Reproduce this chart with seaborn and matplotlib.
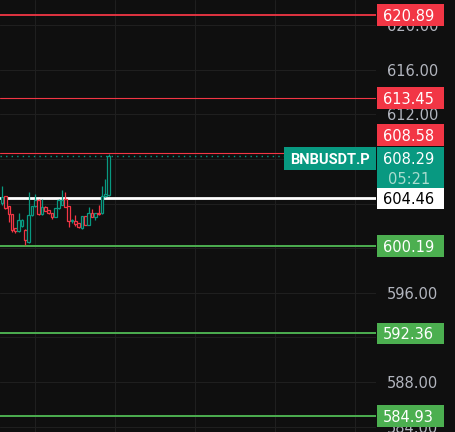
import numpy as np
import pandas as pd
import seaborn as sns
import matplotlib
matplotlib.use('Agg')
import matplotlib.pyplot as plt
import matplotlib.transforms as mtransforms
from matplotlib.patches import Rectangle

# candle data
opens = [604.02, 604.68, 603.78, 603.07, 601.78, 601.57, 602.00, 601.63, 600.58, 602.95, 603.78,
         604.32, 603.07, 603.72, 603.43, 603.13, 602.83, 603.58, 603.90, 604.38, 603.78, 602.41,
         602.41, 602.29, 601.81, 602.89, 602.11, 603.13, 602.83, 603.13, 603.13, 604.68, 604.77]
highs = [605.58, 604.70, 603.80, 603.10, 601.80, 603.13, 602.60, 601.70, 605.00, 603.80, 604.86,
         604.40, 604.38, 603.75, 603.45, 603.15, 603.60, 604.40, 605.22, 605.04, 603.80, 602.60,
         602.95, 602.30, 602.90, 602.90, 603.72, 603.49, 603.15, 603.87, 605.58, 606.18, 608.45]
lows = [603.90, 603.50, 602.38, 601.50, 601.39, 601.50, 601.90, 600.26, 600.50, 602.90, 603.70,
        603.00, 603.00, 603.30, 603.10, 602.65, 602.80, 603.50, 603.85, 603.70, 601.87, 602.30,
        601.99, 601.80, 601.75, 602.05, 602.05, 602.80, 602.53, 603.00, 603.10, 604.60, 604.70]
closes = [604.62, 603.58, 603.07, 601.63, 601.57, 602.53, 602.53, 600.74, 602.95, 603.78, 604.32,
          603.07, 603.72, 603.37, 603.19, 602.83, 603.58, 604.32, 604.30, 603.72, 602.41, 602.53,
          602.17, 601.87, 602.89, 602.11, 603.13, 602.83, 603.13, 603.05, 604.68, 604.90, 608.29]

level_prices = [620.89, 613.45, 608.58, 604.46, 600.19, 592.36, 584.93]
level_kinds = ['res', 'res', 'res', 'pivot', 'sup', 'sup', 'sup']
last_price = 608.29
countdown = "05:21"
symbol = "BNBUSDT.P"
price_ticks = [584, 588, 592, 596, 600, 604, 608, 612, 616, 620]
hidden_ticks = [592, 600, 604, 608]   # fully covered by level labels
time_grid = [10, 34, 58, 82, 106]

bg = '#0f0f0f'
up_col = '#089981'
dn_col = '#f23645'
kind_col = {'res': '#f23645', 'pivot': '#ffffff', 'sup': '#4caf50'}
kind_lw = {'res': 0.8, 'pivot': 2.0, 'sup': 1.4}
kind_txt = {'res': 'white', 'pivot': 'black', 'sup': 'white'}

df = pd.DataFrame({'open': opens, 'high': highs, 'low': lows, 'close': closes})
df['idx'] = np.arange(len(df))
df['up'] = df['close'] >= df['open']
df['color'] = np.where(df['up'], up_col, dn_col)

sns.set_theme(style='dark', rc={'axes.facecolor': bg, 'figure.facecolor': bg,
                               'grid.color': '#1f1f1f', 'axes.edgecolor': bg})
plt.rcParams['font.family'] = ['DejaVu Sans']

fig = plt.figure(figsize=(4.56, 4.32), dpi=100)
ax = fig.add_axes([0, 0, 376 / 456, 1])
ax.set_xlim(-0.63, 112.3)
ax.set_ylim(583.52, 622.26)

ax.set_xticks(time_grid)
ax.set_xticklabels([])
ax.set_yticks(price_ticks)
ax.set_yticklabels(["" if v in hidden_ticks else "%.2f" % v for v in price_ticks])
ax.yaxis.tick_right()
ax.tick_params(axis='y', length=0, pad=8, labelsize=10.5, labelcolor='#b2b5be')
ax.tick_params(axis='x', length=0)
ax.grid(True, color='#1f1f1f', linewidth=0.8)
for s in ax.spines.values():
    s.set_visible(False)

# candles
ax.vlines(df['idx'], df['low'], df['high'], colors=df['color'], linewidth=0.9, zorder=3)
body_lo = df[['open', 'close']].min(axis=1)
body_h = (df['close'] - df['open']).abs().clip(lower=0.08)
ax.bar(df['idx'], body_h, bottom=body_lo, width=0.75, color=bg, edgecolor=df['color'],
       linewidth=0.9, zorder=4)

# levels
for p, k in zip(level_prices, level_kinds):
    lw = kind_lw[k]
    if p == level_prices[0]:
        lw = 1.3
    ax.axhline(p, color=kind_col[k], linewidth=lw, zorder=2)
ax.axhline(last_price, color=up_col, linewidth=1.0, linestyle=(0, (1, 3)), zorder=2)

trans = mtransforms.blended_transform_factory(ax.transAxes, ax.transData)
bx0, bw = 1.003, 0.178
h = 1.95
cur_top = last_price + 0.8
cur_h = 3.7

for p, k in zip(level_prices, level_kinds):
    c = p
    if abs(p - last_price) < 1.5:
        c = cur_top + 0.1 + h / 2
    ax.add_patch(Rectangle((bx0, c - h / 2), bw, h, transform=trans, clip_on=False,
                           facecolor=kind_col[k], edgecolor='none', zorder=6))
    ax.text(bx0 + bw / 2 - 0.005, c, "%.2f" % p, transform=trans, clip_on=False, ha='center',
            va='center_baseline', fontsize=10.5, color=kind_txt[k], zorder=7)

# current price label
ax.add_patch(Rectangle((bx0, cur_top - cur_h), bw, cur_h, transform=trans, clip_on=False,
                       facecolor=up_col, edgecolor='none', zorder=6))
ax.text(bx0 + bw / 2 - 0.005, cur_top - 1.0, "%.2f" % last_price, transform=trans, clip_on=False,
        ha='center', va='center_baseline', fontsize=10.5, color='white', zorder=7)
ax.text(bx0 + bw / 2 - 0.005, cur_top - 2.8, countdown, transform=trans, clip_on=False,
        ha='center', va='center_baseline', fontsize=10.5, color='#a8dccf', zorder=7)

# symbol label
ax.add_patch(Rectangle((0.755, cur_top - 2.06), 0.245, 2.06, transform=trans, clip_on=False,
                       facecolor=up_col, edgecolor='none', zorder=6))
ax.text(0.8775, cur_top - 1.03, symbol, transform=trans, ha='center', va='center_baseline',
        fontsize=10.5, color='white', fontweight='bold', family=['Roboto', 'DejaVu Sans'],
        zorder=7)

fig.savefig('out.png', dpi=100, facecolor=bg)
